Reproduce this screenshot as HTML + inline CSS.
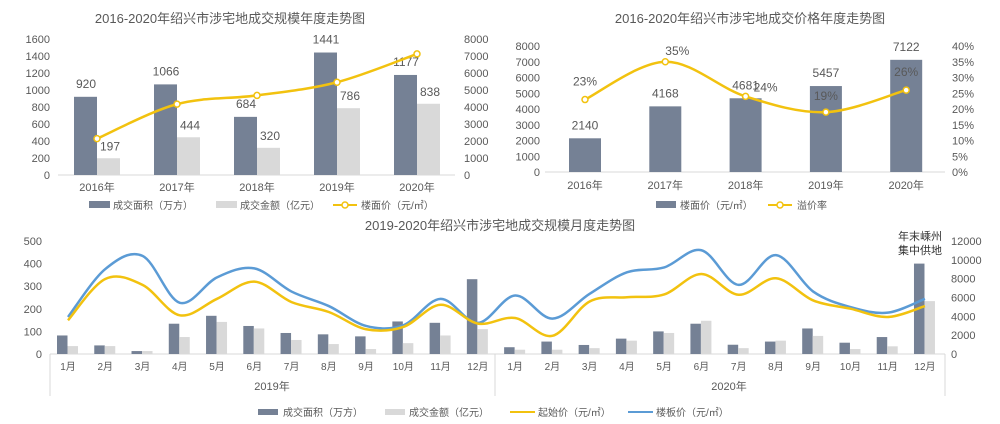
<!DOCTYPE html>
<html><head><meta charset="utf-8">
<style>
body{margin:0;background:#fff;}
svg{display:block;font-family:"Liberation Sans","Noto Sans CJK SC",sans-serif;}
text{fill:#595959;}
</style></head>
<body>
<svg id="s" width="1000" height="424" viewBox="0 0 1000 424" xmlns="http://www.w3.org/2000/svg"></svg>
<script>
// Chart 1 data
const c1Years=['2016年','2017年','2018年','2019年','2020年'];
const c1Area=[920,1066,684,1441,1177];
const c1Amount=[197,444,320,786,838];
const c1Price=[2140,4168,4681,5457,7122];
const c1LeftTicks=[0,200,400,600,800,1000,1200,1400,1600];
const c1RightTicks=[0,1000,2000,3000,4000,5000,6000,7000,8000];
// Chart 2 data
const c2Years=['2016年','2017年','2018年','2019年','2020年'];
const c2Price=[2140,4168,4681,5457,7122];
const c2Rate=[23,35,24,19,26];
const c2LeftTicks=[0,1000,2000,3000,4000,5000,6000,7000,8000];
const c2RightTicks=[0,5,10,15,20,25,30,35,40];
// Chart 3 data
const c3Months=['1月','2月','3月','4月','5月','6月','7月','8月','9月','10月','11月','12月','1月','2月','3月','4月','5月','6月','7月','8月','9月','10月','11月','12月'];
const c3Area=[82,38,13,134,169,124,93,87,78,144,138,331,30,55,40,68,100,134,41,55,113,50,75,400];
const c3Amount=[35,35,13,75,142,113,62,44,22,48,82,110,19,19,26,59,93,147,26,59,80,22,34,234];
const c3Start=[3580,7970,7340,4110,5860,7690,5510,4460,2630,2880,5230,3230,3820,1930,5580,6030,6320,8500,6290,8040,5690,4810,3930,5090];
const c3Floor=[3930,9020,10420,5440,8140,9090,6630,5090,2980,3050,5860,3300,6210,3760,6390,8670,9190,11020,7340,10500,6630,4980,4390,5860];
const c3LeftTicks=[0,100,200,300,400,500];
const c3RightTicks=[0,2000,4000,6000,8000,10000,12000];

const NS='http://www.w3.org/2000/svg';
const svg=document.getElementById('s');
function el(tag,attrs,parent){const e=document.createElementNS(NS,tag);for(const k in attrs)e.setAttribute(k,attrs[k]);(parent||svg).appendChild(e);return e;}
function txt(x,y,s,size,anchor,extra){const t=el('text',Object.assign({x:x,y:y,'font-size':size,'text-anchor':anchor||'middle'},extra||{}));t.textContent=s;return t;}
function smooth(pts){let d='M'+pts[0][0]+','+pts[0][1];for(let i=0;i<pts.length-1;i++){const p0=pts[i-1]||pts[i],p1=pts[i],p2=pts[i+1],p3=pts[i+2]||p2;const c1x=p1[0]+(p2[0]-p0[0])/6,c1y=p1[1]+(p2[1]-p0[1])/6,c2x=p2[0]-(p3[0]-p1[0])/6,c2y=p2[1]-(p3[1]-p1[1])/6;d+=' C'+c1x+','+c1y+' '+c2x+','+c2y+' '+p2[0]+','+p2[1];}return d;}
const DARK='#758195',GRAY='#d9d9d9',YEL='#f2c20f',BLUE='#5b9bd5';

// ---------- Chart 1 ----------
(function(){
const y0=175,y1=39;const yL=v=>y0-(v/1600)*(y0-y1);const yR=v=>y0-(v/8000)*(y0-y1);
const xC=i=>97+i*80;
let t=txt(230,23,'2016-2020年绍兴市涉宅地成交规模年度走势图',13);
el('line',{x1:58,y1:y0,x2:455,y2:y0,stroke:'#d9d9d9'});
c1LeftTicks.forEach(v=>{const e=txt(50,yL(v)+4,String(v),11,'end');});
c1RightTicks.forEach(v=>{const e=txt(464,yR(v)+4,String(v),11,'start');});
c1Years.forEach((c,i)=>{
 const e=txt(xC(i),191,c,11);
 const b=el('rect',{x:xC(i)-23,y:yL(c1Area[i]),width:23,height:y0-yL(c1Area[i]),fill:DARK});
 const g=el('rect',{x:xC(i),y:yL(c1Amount[i]),width:23,height:y0-yL(c1Amount[i]),fill:GRAY});
 txt(xC(i)-11,yL(c1Area[i])-9,String(c1Area[i]),12);
 txt(xC(i)+13,yL(c1Amount[i])-8,String(c1Amount[i]),12);
});
const pts=c1Price.map((v,i)=>[xC(i),yR(v)]);
const p=el('path',{d:smooth(pts),fill:'none',stroke:YEL,'stroke-width':2.5});
pts.forEach(q=>{const c=el('circle',{cx:q[0],cy:q[1],r:3,fill:'#fff',stroke:YEL,'stroke-width':1.5});});
const l1=el('rect',{x:89,y:201,width:21,height:7,fill:DARK});
txt(113,209,'成交面积（万方）',10,'start');
const l2=el('rect',{x:216,y:201,width:21,height:7,fill:GRAY});
txt(240,209,'成交金额（亿元）',10,'start');
el('line',{x1:333,y1:205,x2:357,y2:205,stroke:YEL,'stroke-width':2});el('circle',{cx:345,cy:205,r:3,fill:'#fff',stroke:YEL,'stroke-width':1.5});
txt(361,209,'楼面价（元/㎡）',10,'start');
})();

// ---------- Chart 2 ----------
(function(){
const y0=172,y1=46;const yL=v=>y0-(v/8000)*(y0-y1);const yR=v=>y0-(v/40)*(y0-y1);
const xC=i=>585+i*80.3;
let t=txt(750,23,'2016-2020年绍兴市涉宅地成交价格年度走势图',13);
el('line',{x1:545,y1:y0,x2:945,y2:y0,stroke:'#d9d9d9'});
c2LeftTicks.forEach(v=>{const e=txt(540,yL(v)+4,String(v),11,'end');});
c2RightTicks.forEach(v=>{const e=txt(952,yR(v)+4,v+'%',11,'start');});
c2Years.forEach((c,i)=>{
 const e=txt(xC(i),189,c,11);
 const b=el('rect',{x:xC(i)-16,y:yL(c2Price[i]),width:32,height:y0-yL(c2Price[i]),fill:DARK});
 txt(xC(i),yL(c2Price[i])-9,String(c2Price[i]),12);
});
const pts=c2Rate.map((v,i)=>[xC(i),yR(v)]);
const p=el('path',{d:smooth(pts),fill:'none',stroke:YEL,'stroke-width':2.5});
pts.forEach((q,i)=>{const c=el('circle',{cx:q[0],cy:q[1],r:3,fill:'#fff',stroke:YEL,'stroke-width':1.5});
 const off=[[0,-14],[12,-7],[20,-5],[0,-12],[0,-14]][i];txt(q[0]+off[0],q[1]+off[1],c2Rate[i]+'%',12);});
const l1=el('rect',{x:656,y:201,width:20,height:7,fill:DARK});
txt(680,209,'楼面价（元/㎡）',10,'start');
el('line',{x1:768,y1:205,x2:792,y2:205,stroke:YEL,'stroke-width':2});el('circle',{cx:780,cy:205,r:3,fill:'#fff',stroke:YEL,'stroke-width':1.5});
txt(797,209,'溢价率',10,'start');
})();

// ---------- Chart 3 ----------
(function(){
const y0=354,y1=241;const yL=v=>y0-(v/500)*(y0-y1);const yR=v=>y0-(v/12000)*(y0-y1);
const xC=i=>68+i*37.26;
let t=txt(500,230,'2019-2020年绍兴市涉宅地成交规模月度走势图',13);
el('line',{x1:50,y1:y0,x2:945,y2:y0,stroke:'#d9d9d9'});
[50,495,945].forEach(x=>el('line',{x1:x,y1:y0,x2:x,y2:396,stroke:'#d9d9d9'}));
c3LeftTicks.forEach(v=>{const e=txt(42,yL(v)+4,String(v),11,'end');});
c3RightTicks.forEach(v=>{const e=txt(951,yR(v)+4,String(v),11,'start');});
c3Months.forEach((m,i)=>{
 const e=txt(xC(i),370,m,10);
 const b=el('rect',{x:xC(i)-11,y:yL(c3Area[i]),width:10.5,height:y0-yL(c3Area[i]),fill:DARK});
 const g=el('rect',{x:xC(i)-0.5,y:yL(c3Amount[i]),width:10.5,height:y0-yL(c3Amount[i]),fill:GRAY});
});
txt(272,390,'2019年',11);txt(729,390,'2020年',11);
const ps=c3Start.map((v,i)=>[xC(i),yR(v)]);const pf=c3Floor.map((v,i)=>[xC(i),yR(v)]);
const a=el('path',{d:smooth(pf),fill:'none',stroke:BLUE,'stroke-width':2.5});
const b=el('path',{d:smooth(ps),fill:'none',stroke:YEL,'stroke-width':2.5});
const n1=txt(920,240,'年末嵊州',11,'middle',{style:'fill:#333'});
txt(920,254,'集中供地',11,'middle',{style:'fill:#333'});
const l1=el('rect',{x:258,y:409,width:20,height:6,fill:DARK});
txt(283,416,'成交面积（万方）',10,'start');
const l2=el('rect',{x:385,y:409,width:20,height:6,fill:GRAY});
txt(409,416,'成交金额（亿元）',10,'start');
el('line',{x1:510,y1:412,x2:535,y2:412,stroke:YEL,'stroke-width':2});
txt(538,416,'起始价（元/㎡）',10,'start');
el('line',{x1:628,y1:412,x2:653,y2:412,stroke:BLUE,'stroke-width':2});
txt(656,416,'楼板价（元/㎡）',10,'start');
})();
</script>
</body></html>
